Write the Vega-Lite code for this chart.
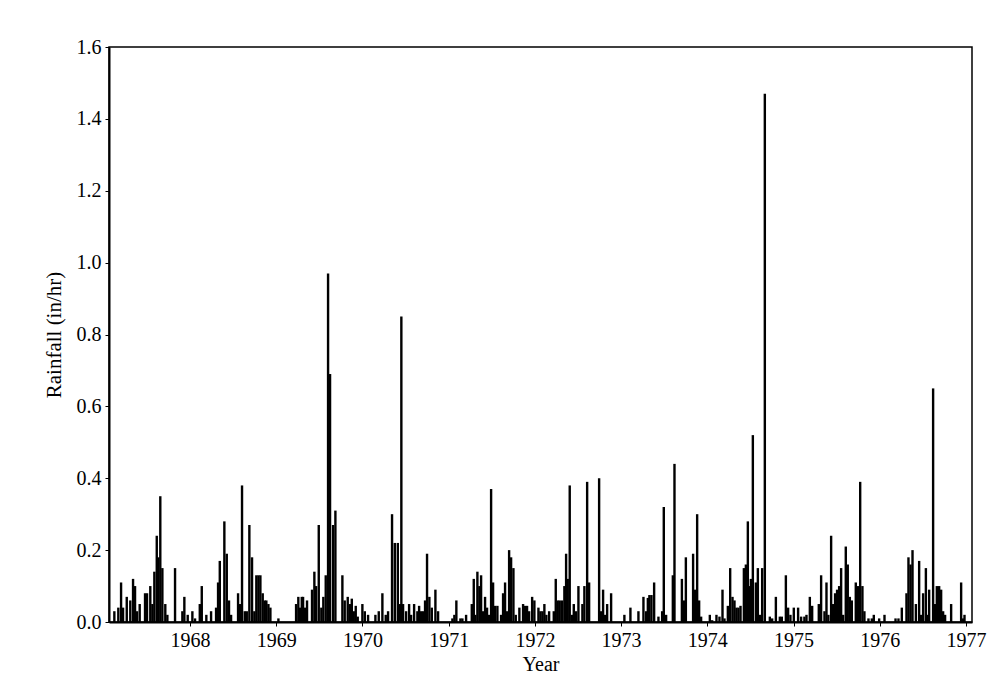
{
"$schema": "https://vega.github.io/schema/vega-lite/v6.json",
"width": 863,
"height": 575,
"autosize": {"type": "none"},
"padding": {"left": 109, "top": 47, "right": 29, "bottom": 57},
"background": "white",
"config": {"view": {"stroke": "black", "strokeWidth": 1.5}, "font": "Liberation Serif"},
"data": {"values": [
{"year":1967.122,"rain":0.03},{"year":1967.168,"rain":0.04},{"year":1967.200,"rain":0.11},{"year":1967.223,"rain":0.04},{"year":1967.266,"rain":0.07},{"year":1967.307,"rain":0.06},{"year":1967.339,"rain":0.12},{"year":1967.362,"rain":0.10},{"year":1967.385,"rain":0.03},{"year":1967.416,"rain":0.05},{"year":1967.478,"rain":0.08},{"year":1967.501,"rain":0.08},{"year":1967.539,"rain":0.10},{"year":1967.563,"rain":0.05},{"year":1967.586,"rain":0.14},{"year":1967.614,"rain":0.24},{"year":1967.632,"rain":0.18},{"year":1967.655,"rain":0.35},{"year":1967.679,"rain":0.15},{"year":1967.713,"rain":0.05},{"year":1967.737,"rain":0.02},{"year":1967.826,"rain":0.15},{"year":1967.911,"rain":0.03},{"year":1967.934,"rain":0.07},{"year":1967.973,"rain":0.02},
{"year":1968.027,"rain":0.03},{"year":1968.058,"rain":0.01},{"year":1968.113,"rain":0.05},{"year":1968.136,"rain":0.10},{"year":1968.189,"rain":0.02},{"year":1968.244,"rain":0.03},{"year":1968.302,"rain":0.04},{"year":1968.325,"rain":0.11},{"year":1968.345,"rain":0.17},{"year":1968.398,"rain":0.28},{"year":1968.426,"rain":0.19},{"year":1968.452,"rain":0.06},{"year":1968.476,"rain":0.02},{"year":1968.557,"rain":0.08},{"year":1968.580,"rain":0.05},{"year":1968.603,"rain":0.38},{"year":1968.635,"rain":0.03},{"year":1968.658,"rain":0.03},{"year":1968.688,"rain":0.27},{"year":1968.719,"rain":0.18},{"year":1968.746,"rain":0.03},{"year":1968.769,"rain":0.13},{"year":1968.793,"rain":0.13},{"year":1968.816,"rain":0.13},{"year":1968.843,"rain":0.08},{"year":1968.866,"rain":0.06},{"year":1968.885,"rain":0.06},{"year":1968.909,"rain":0.05},{"year":1968.932,"rain":0.04},
{"year":1969.025,"rain":0.01},{"year":1969.230,"rain":0.05},{"year":1969.256,"rain":0.07},{"year":1969.276,"rain":0.04},{"year":1969.296,"rain":0.07},{"year":1969.311,"rain":0.07},{"year":1969.331,"rain":0.04},{"year":1969.357,"rain":0.06},{"year":1969.415,"rain":0.09},{"year":1969.442,"rain":0.14},{"year":1969.462,"rain":0.10},{"year":1969.493,"rain":0.27},{"year":1969.523,"rain":0.04},{"year":1969.546,"rain":0.07},{"year":1969.574,"rain":0.13},{"year":1969.601,"rain":0.97},{"year":1969.624,"rain":0.69},{"year":1969.659,"rain":0.27},{"year":1969.686,"rain":0.31},{"year":1969.767,"rain":0.13},{"year":1969.794,"rain":0.06},{"year":1969.829,"rain":0.07},{"year":1969.853,"rain":0.05},{"year":1969.876,"rain":0.065},{"year":1969.899,"rain":0.03},{"year":1969.922,"rain":0.045},{"year":1969.945,"rain":0.015},{"year":1969.999,"rain":0.05},
{"year":1970.027,"rain":0.03},{"year":1970.065,"rain":0.02},{"year":1970.150,"rain":0.02},{"year":1970.189,"rain":0.03},{"year":1970.231,"rain":0.08},{"year":1970.270,"rain":0.02},{"year":1970.297,"rain":0.03},{"year":1970.343,"rain":0.30},{"year":1970.375,"rain":0.22},{"year":1970.410,"rain":0.22},{"year":1970.433,"rain":0.05},{"year":1970.451,"rain":0.85},{"year":1970.471,"rain":0.05},{"year":1970.506,"rain":0.03},{"year":1970.541,"rain":0.05},{"year":1970.564,"rain":0.02},{"year":1970.599,"rain":0.05},{"year":1970.637,"rain":0.03},{"year":1970.657,"rain":0.045},{"year":1970.680,"rain":0.03},{"year":1970.703,"rain":0.03},{"year":1970.726,"rain":0.06},{"year":1970.749,"rain":0.19},{"year":1970.776,"rain":0.07},{"year":1970.804,"rain":0.04},{"year":1970.846,"rain":0.09},{"year":1970.877,"rain":0.03},
{"year":1971.043,"rain":0.01},{"year":1971.066,"rain":0.02},{"year":1971.089,"rain":0.06},{"year":1971.136,"rain":0.01},{"year":1971.159,"rain":0.01},{"year":1971.202,"rain":0.02},{"year":1971.268,"rain":0.05},{"year":1971.291,"rain":0.12},{"year":1971.310,"rain":0.02},{"year":1971.333,"rain":0.14},{"year":1971.356,"rain":0.10},{"year":1971.376,"rain":0.13},{"year":1971.399,"rain":0.03},{"year":1971.422,"rain":0.07},{"year":1971.445,"rain":0.04},{"year":1971.469,"rain":0.02},{"year":1971.492,"rain":0.37},{"year":1971.515,"rain":0.11},{"year":1971.538,"rain":0.045},{"year":1971.565,"rain":0.045},{"year":1971.608,"rain":0.02},{"year":1971.631,"rain":0.08},{"year":1971.654,"rain":0.11},{"year":1971.677,"rain":0.03},{"year":1971.701,"rain":0.20},{"year":1971.724,"rain":0.18},{"year":1971.751,"rain":0.15},{"year":1971.778,"rain":0.02},{"year":1971.820,"rain":0.04},{"year":1971.863,"rain":0.05},{"year":1971.886,"rain":0.045},{"year":1971.909,"rain":0.045},{"year":1971.933,"rain":0.03},{"year":1971.968,"rain":0.07},{"year":1971.994,"rain":0.06},
{"year":1972.041,"rain":0.04},{"year":1972.064,"rain":0.03},{"year":1972.087,"rain":0.03},{"year":1972.110,"rain":0.05},{"year":1972.133,"rain":0.02},{"year":1972.165,"rain":0.03},{"year":1972.219,"rain":0.03},{"year":1972.242,"rain":0.12},{"year":1972.265,"rain":0.06},{"year":1972.288,"rain":0.06},{"year":1972.316,"rain":0.06},{"year":1972.342,"rain":0.10},{"year":1972.362,"rain":0.19},{"year":1972.381,"rain":0.12},{"year":1972.404,"rain":0.38},{"year":1972.428,"rain":0.02},{"year":1972.451,"rain":0.05},{"year":1972.478,"rain":0.03},{"year":1972.505,"rain":0.10},{"year":1972.551,"rain":0.05},{"year":1972.574,"rain":0.10},{"year":1972.606,"rain":0.39},{"year":1972.629,"rain":0.11},{"year":1972.745,"rain":0.40},{"year":1972.768,"rain":0.03},{"year":1972.791,"rain":0.09},{"year":1972.814,"rain":0.02},{"year":1972.838,"rain":0.05},{"year":1972.884,"rain":0.08},
{"year":1973.038,"rain":0.02},{"year":1973.108,"rain":0.04},{"year":1973.201,"rain":0.03},{"year":1973.259,"rain":0.07},{"year":1973.290,"rain":0.03},{"year":1973.310,"rain":0.067},{"year":1973.328,"rain":0.075},{"year":1973.352,"rain":0.075},{"year":1973.383,"rain":0.11},{"year":1973.433,"rain":0.015},{"year":1973.476,"rain":0.03},{"year":1973.495,"rain":0.32},{"year":1973.522,"rain":0.02},{"year":1973.600,"rain":0.13},{"year":1973.619,"rain":0.44},{"year":1973.705,"rain":0.12},{"year":1973.728,"rain":0.06},{"year":1973.751,"rain":0.18},{"year":1973.835,"rain":0.19},{"year":1973.858,"rain":0.09},{"year":1973.882,"rain":0.30},{"year":1973.905,"rain":0.06},{"year":1973.928,"rain":0.015},
{"year":1974.029,"rain":0.02},{"year":1974.056,"rain":0.005},{"year":1974.106,"rain":0.02},{"year":1974.141,"rain":0.015},{"year":1974.176,"rain":0.09},{"year":1974.199,"rain":0.01},{"year":1974.238,"rain":0.045},{"year":1974.265,"rain":0.15},{"year":1974.292,"rain":0.07},{"year":1974.315,"rain":0.06},{"year":1974.338,"rain":0.04},{"year":1974.361,"rain":0.04},{"year":1974.385,"rain":0.045},{"year":1974.424,"rain":0.15},{"year":1974.447,"rain":0.16},{"year":1974.470,"rain":0.28},{"year":1974.489,"rain":0.10},{"year":1974.505,"rain":0.12},{"year":1974.528,"rain":0.52},{"year":1974.563,"rain":0.11},{"year":1974.586,"rain":0.15},{"year":1974.609,"rain":0.02},{"year":1974.636,"rain":0.15},{"year":1974.667,"rain":1.47},{"year":1974.725,"rain":0.015},{"year":1974.752,"rain":0.01},{"year":1974.795,"rain":0.07},{"year":1974.841,"rain":0.015},{"year":1974.864,"rain":0.015},{"year":1974.911,"rain":0.13},{"year":1974.937,"rain":0.04},{"year":1974.964,"rain":0.02},
{"year":1975.003,"rain":0.04},{"year":1975.053,"rain":0.04},{"year":1975.088,"rain":0.015},{"year":1975.126,"rain":0.015},{"year":1975.150,"rain":0.02},{"year":1975.189,"rain":0.07},{"year":1975.216,"rain":0.045},{"year":1975.293,"rain":0.05},{"year":1975.320,"rain":0.13},{"year":1975.359,"rain":0.03},{"year":1975.382,"rain":0.11},{"year":1975.404,"rain":0.02},{"year":1975.436,"rain":0.24},{"year":1975.459,"rain":0.05},{"year":1975.482,"rain":0.08},{"year":1975.505,"rain":0.09},{"year":1975.529,"rain":0.10},{"year":1975.552,"rain":0.15},{"year":1975.575,"rain":0.02},{"year":1975.606,"rain":0.21},{"year":1975.629,"rain":0.16},{"year":1975.653,"rain":0.07},{"year":1975.676,"rain":0.06},{"year":1975.722,"rain":0.11},{"year":1975.746,"rain":0.10},{"year":1975.773,"rain":0.39},{"year":1975.799,"rain":0.10},{"year":1975.822,"rain":0.03},{"year":1975.869,"rain":0.01},{"year":1975.908,"rain":0.01},{"year":1975.931,"rain":0.02},{"year":1975.993,"rain":0.01},
{"year":1976.055,"rain":0.02},{"year":1976.183,"rain":0.01},{"year":1976.217,"rain":0.01},{"year":1976.256,"rain":0.04},{"year":1976.310,"rain":0.08},{"year":1976.333,"rain":0.18},{"year":1976.357,"rain":0.16},{"year":1976.380,"rain":0.20},{"year":1976.419,"rain":0.05},{"year":1976.457,"rain":0.17},{"year":1976.480,"rain":0.02},{"year":1976.503,"rain":0.08},{"year":1976.535,"rain":0.15},{"year":1976.553,"rain":0.02},{"year":1976.573,"rain":0.09},{"year":1976.619,"rain":0.65},{"year":1976.642,"rain":0.05},{"year":1976.662,"rain":0.10},{"year":1976.689,"rain":0.10},{"year":1976.712,"rain":0.09},{"year":1976.735,"rain":0.03},{"year":1976.758,"rain":0.02},{"year":1976.828,"rain":0.05},{"year":1976.944,"rain":0.11},{"year":1976.964,"rain":0.01},{"year":1976.983,"rain":0.02}
]},
"mark": {"type": "rule", "color": "black", "strokeWidth": 2.4},
"encoding": {
  "x": {"field": "year", "type": "quantitative",
        "scale": {"domain": [1967.06, 1977.07], "nice": false, "zero": false},
        "axis": {"values": [1968,1969,1970,1971,1972,1973,1974,1975,1976,1977], "format": "d", "title": "Year", "grid": false,
                 "labelFont": "Liberation Serif", "labelFontSize": 20, "labelColor": "black", "labelPadding": 4,
                 "titleFont": "Liberation Serif", "titleFontSize": 20, "titleFontWeight": "normal", "titleColor": "black", "titlePadding": 4,
                 "domainColor": "black", "domainWidth": 2, "tickColor": "black", "tickSize": 4, "tickWidth": 1}},
  "y": {"field": "rain", "type": "quantitative",
        "scale": {"domain": [0, 1.6], "nice": false},
        "axis": {"values": [0,0.2,0.4,0.6,0.8,1.0,1.2,1.4,1.6], "format": ".1f", "title": "Rainfall (in/hr)", "grid": false,
                 "labelFont": "Liberation Serif", "labelFontSize": 20, "labelColor": "black", "labelPadding": 4,
                 "titleFont": "Liberation Serif", "titleFontSize": 21, "titleFontWeight": "normal", "titleColor": "black", "titlePadding": 12,
                 "domainColor": "black", "domainWidth": 2, "tickColor": "black", "tickSize": 4, "tickWidth": 1}},
  "y2": {"datum": 0}
}
}
